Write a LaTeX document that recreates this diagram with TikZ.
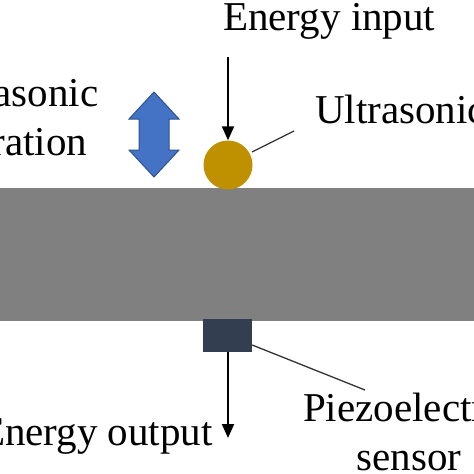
\documentclass[tikz,border=0pt]{standalone}
\usepackage{fontspec}
\setmainfont{Liberation Serif}
\usetikzlibrary{arrows.meta}
\definecolor{bandgray}{RGB}{128,128,128}
\definecolor{gold}{RGB}{191,144,0}
\definecolor{navy}{RGB}{51,63,80}
\definecolor{arrowblue}{RGB}{68,114,196}
\definecolor{arrowedge}{RGB}{47,82,143}
\tikzset{
  lbl/.style={inner sep=0pt, font=\fontsize{41}{49}\selectfont, align=center},
  flow/.style={line width=2pt, -{Triangle[length=14pt,width=12pt]}},
  leader/.style={line width=1.3pt, draw=black!80},
}
\begin{document}
\begin{tikzpicture}[x=1pt,y=-1pt]
\useasboundingbox (0,0) rectangle (474,474);
\clip (0,0) rectangle (474,474);
% plate
\fill[bandgray] (0,188) rectangle (474,321);
% blue double arrow
\filldraw[fill=arrowblue, draw=arrowedge, line width=1pt]
  (154,92) -- (179,119) -- (169,119) -- (169,150) -- (179,150) -- (154,177)
  -- (129,150) -- (139,150) -- (139,119) -- (129,119) -- cycle;
% ultrasonic source
\node[circle, fill=gold, minimum size=49pt, inner sep=0pt] (ball) at (228,165) {};
% sensor
\node[rectangle, fill=navy, minimum width=49pt, minimum height=33pt, inner sep=0pt] (sensor) at (227.5,335) {};
% texts
\node[lbl, anchor=base west] (ein) at (223,30) {Energy input};
\node[lbl, anchor=base west] (ultra) at (315,123) {Ultrasonic};
\node[lbl, anchor=base] (vib) at (13,155) {Ultrasonic\\vibration};
\node[lbl, anchor=base east] (eout) at (213,445) {Energy output};
\node[lbl, anchor=base] (piezo) at (409,470) {Piezoelectric\\sensor};
% connectors
\coordinate (inStart) at (228,57);
\coordinate (outEnd) at (228,438);
\coordinate (ultraEnd) at (294,131);
\coordinate (piezoEnd) at (365,390);
\draw[flow] (inStart) -- (ball.north);
\draw[flow] (sensor.south -| outEnd) -- (outEnd);
\draw[leader] (252,152) -- (ultraEnd);
\draw[leader] (sensor.east |- 0,345) -- (piezoEnd);
\end{tikzpicture}
\end{document}
